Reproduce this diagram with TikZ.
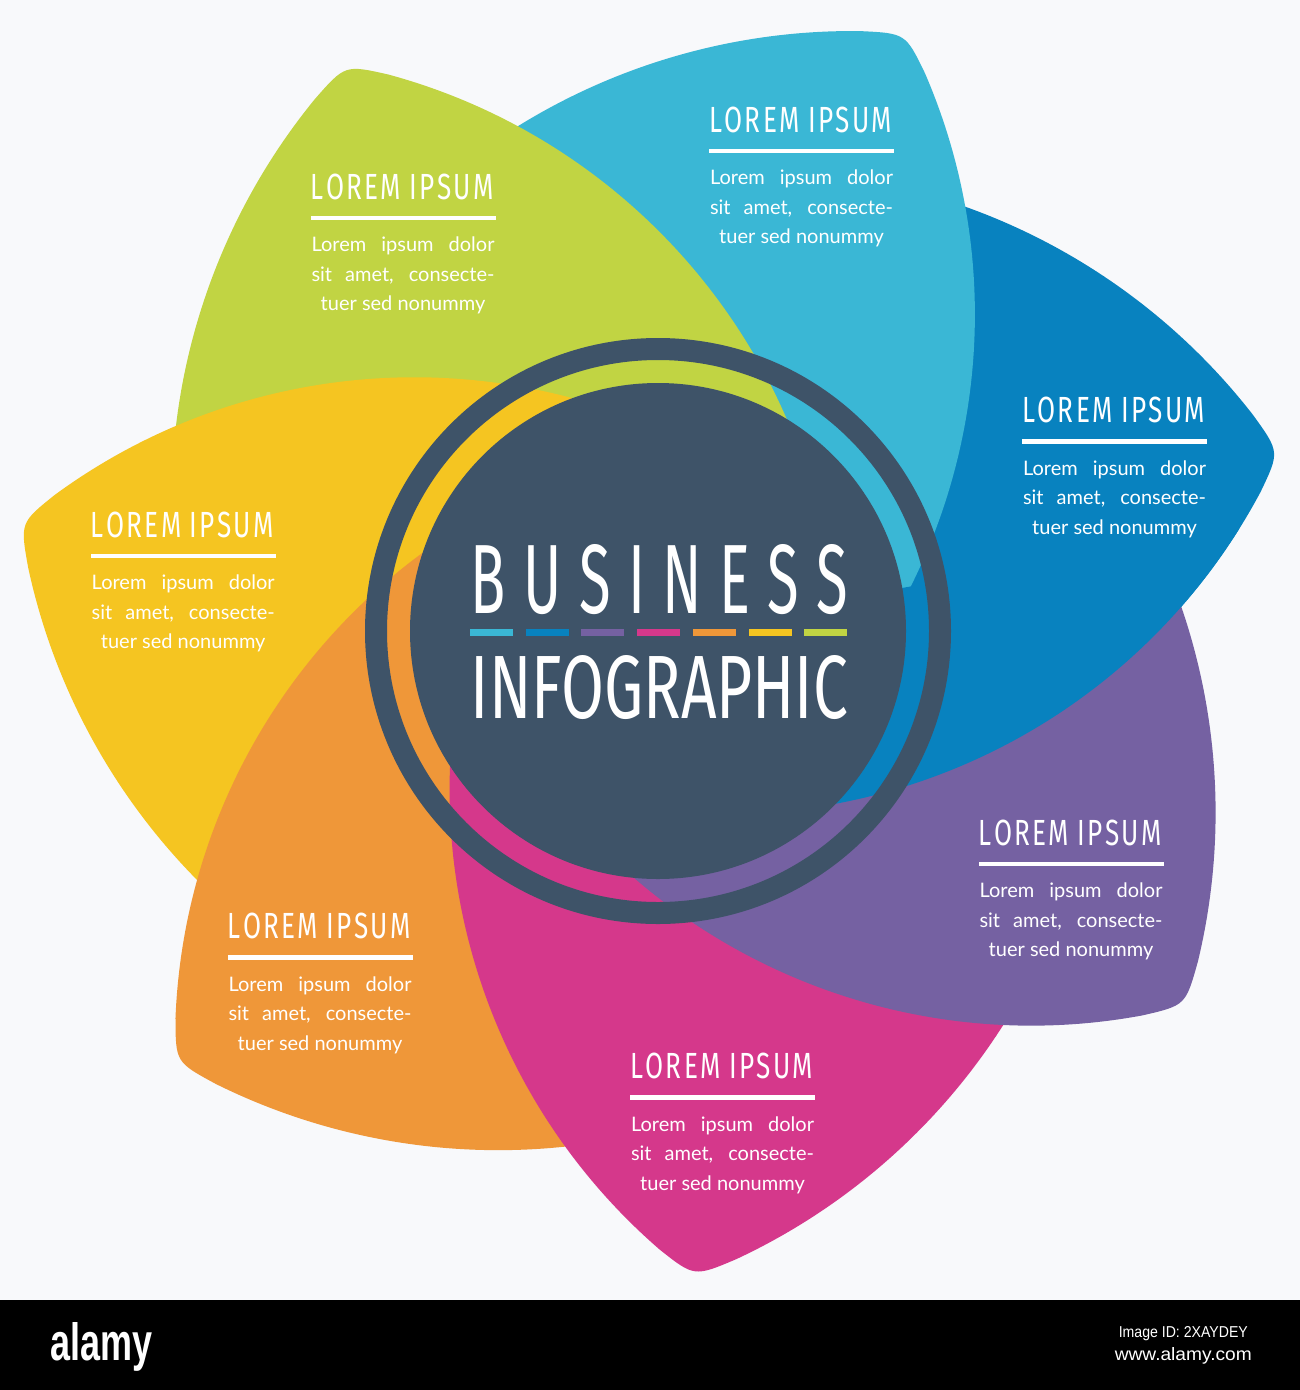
\documentclass[tikz,border=0pt]{standalone}
\usepackage{fontspec}
\usepackage{graphicx}
\setmainfont{Lato}
\newfontfamily\headfont{Fira Sans}
\newfontfamily\logofont{Liberation Sans}

\definecolor{bg}{HTML}{F8F9FB}
\definecolor{pcyan}{HTML}{3AB7D5}
\definecolor{pblue}{HTML}{0882BF}
\definecolor{ppurple}{HTML}{7561A2}
\definecolor{pmagenta}{HTML}{D5388B}
\definecolor{porange}{HTML}{EF9739}
\definecolor{pyellow}{HTML}{F5C521}
\definecolor{pgreen}{HTML}{C1D443}
\definecolor{core}{HTML}{3E5368}

\newcommand\ls{\kern0.09em}
\newcommand\loremtitle{L\ls O\ls R\ls E\ls M\hspace{0.32em}I\ls P\ls S\ls U\ls M}

\newcommand\drawpetal[2]{%
  \begin{scope}[shift={(658pt,-631pt)},rotate=#1]
    \fill[#2] (40.1pt,-201.4pt) arc[start angle=-103.4,end angle=-44.1,radius=608pt]
      .. controls (647pt,0pt) .. (631.6pt,42.9pt)
      arc[start angle=21.8,end angle=60,radius=635pt] -- (0pt,0pt) -- cycle;
  \end{scope}}

\tikzset{
  ttl/.style={anchor=base west,inner sep=0pt,text=white},
  bodytxt/.style={anchor=base,inner sep=0pt,text=white,font=\fontsize{20}{22}\selectfont},
  bigtitle/.style={anchor=base,inner sep=0pt,text=white}
}

\newcommand\lblock[3]{%
  \node[ttl] (#1t) at (#2,#3+25.5) {\resizebox{183pt}{25.5pt}{\headfont\loremtitle}};
  \fill[white] (#2,#3+42) rectangle ++(185,4.5);
  \node[bodytxt] (#1a) at (#2+92.5,#3+78) {\makebox[183pt][s]{Lorem ipsum dolor}};
  \node[bodytxt] (#1b) at (#2+92.5,#3+107.5) {\makebox[183pt][s]{sit amet, consecte-}};
  \node[bodytxt] (#1c) at (#2+92.5,#3+137) {tuer sed nonummy};
}

\begin{document}
\begin{tikzpicture}[x=1pt,y=-1pt]
\useasboundingbox (0,0) rectangle (1300,1390);
\fill[bg] (0,0) rectangle (1300,1390);

% petals (each lies over its clockwise neighbour)
\drawpetal{16.07}{pblue}
\drawpetal{67.5}{pcyan}
\drawpetal{118.93}{pgreen}
\drawpetal{170.36}{pyellow}
\drawpetal{221.79}{porange}
\drawpetal{273.21}{pmagenta}
\drawpetal{324.64}{ppurple}
\begin{scope}
  \clip[shift={(658pt,-631pt)}] (0pt,0pt) -- (-80:900pt) -- (-35:900pt) -- (10:900pt) -- cycle;
  \drawpetal{16.07}{pblue}
\end{scope}

% centre
\node[circle,fill=core,minimum size=496pt,inner sep=0pt] (core) at (658,631) {};
\node[circle,draw=core,line width=22pt,minimum size=564pt,inner sep=0pt] (ring) at (658,631) {};

\node[bigtitle] (business) at (659.5,613) {\resizebox{377pt}{69pt}{\headfont B\hspace{0.3em}U\hspace{0.3em}S\hspace{0.3em}I\hspace{0.3em}N\hspace{0.3em}E\hspace{0.3em}S\hspace{0.3em}S}};
\foreach \c [count=\i from 0] in {pcyan,pblue,ppurple,pmagenta,porange,pyellow,pgreen}
  \fill[\c] (470+\i*55.7,628.5) rectangle ++(43,7.5);
\node[bigtitle] (infographic) at (659.5,718) {\resizebox{377pt}{63pt}{\headfont INFOGRAPHIC}};

% labels
\lblock{green}{310.5}{173.5}
\lblock{cyan}{709}{106.5}
\lblock{blue}{1022}{397}
\lblock{yellow}{90.7}{511.5}
\lblock{purple}{978.5}{819.5}
\lblock{orange}{227.5}{913}
\lblock{magenta}{630}{1053}

% bottom bar
\fill[black] (0,1300) rectangle (1300,1390);
\node[anchor=base west,inner sep=0pt,text=white] (logo) at (50,1360) {\resizebox{102pt}{38pt}{\logofont\bfseries alamy}};
\node[anchor=base east,inner sep=0pt,text=white] (imgid) at (1248,1337) {\resizebox{129pt}{11pt}{\logofont Image ID: 2XAYDEY}};
\node[anchor=base east,inner sep=0pt,text=white] (www) at (1252,1360) {\resizebox{137pt}{13pt}{\logofont www.alamy.com}};
\end{tikzpicture}
\end{document}
